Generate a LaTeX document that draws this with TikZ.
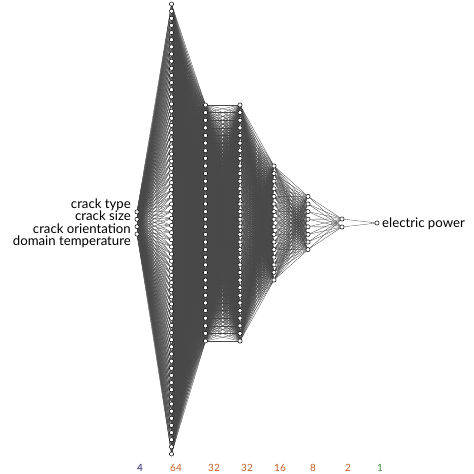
\documentclass[tikz,border=0pt]{standalone}
\usepackage{fontspec}
\setmainfont{Lato}
\usetikzlibrary{backgrounds}
\definecolor{edgec}{RGB}{72,72,72}
\definecolor{cnavy}{RGB}{40,40,110}
\definecolor{corange}{RGB}{196,96,40}
\definecolor{cgreen}{RGB}{60,140,60}
\begin{document}
\begin{tikzpicture}[x=1pt,y=-1pt,
  neuron/.style={circle,draw=black,fill=white,inner sep=0pt,minimum size=4.2pt,line width=0.5pt},
  conn/.style={edgec,line width=0.32pt},
  lbl/.style={font=\fontsize{13.2}{15}\selectfont,inner sep=0pt},
  numlbl/.style={font=\fontsize{10}{12}\selectfont,inner sep=0pt,anchor=base}]
\useasboundingbox (0,0) rectangle (474,474);
% neurons
\foreach \l/\n/\x/\ya/\yb in {0/4/137/211.9/234.1, 1/64/171.5/4/454, 2/32/205.5/105/341, 3/32/240/105/341, 4/16/274/166/280, 5/8/308/196.4/249.6, 6/2/342/219/227, 7/1/377/223/223}{
  \pgfmathsetmacro\dy{(\yb-\ya)/max(\n-1,1)}
  \foreach \i in {1,...,\n}{
    \pgfmathsetmacro\yy{\ya+\dy*(\i-1)}
    \node[neuron] (n\l-\i) at (\x,\yy) {};
  }
}
% connections
\begin{scope}[on background layer]
\foreach \l/\n/\m in {0/4/64, 1/64/32, 2/32/32, 3/32/16, 4/16/8, 5/8/2, 6/2/1}{
  \pgfmathtruncatemacro\lp{\l+1}
  \foreach \i in {1,...,\n}{
    \foreach \j in {1,...,\m}{
      \draw[conn] (n\l-\i) -- (n\lp-\j);
    }
  }
}
\end{scope}
% labels
\node[lbl,anchor=base east] (t1) at (131,208) {crack type};
\node[lbl,anchor=base east] (t2) at (131,220.5) {crack size};
\node[lbl,anchor=base east] (t3) at (131,233) {crack orientation};
\node[lbl,anchor=base east] (t4) at (131,245.5) {domain temperature};
\node[lbl,anchor=base west] (t5) at (382,227.5) {electric power};
% layer sizes
\node[numlbl,text=cnavy] (s0) at (140,471.5) {4};
\node[numlbl,text=corange] (s1) at (176,471.5) {64};
\node[numlbl,text=corange] (s2) at (214,471.5) {32};
\node[numlbl,text=corange] (s3) at (247,471.5) {32};
\node[numlbl,text=corange] (s4) at (280,471.5) {16};
\node[numlbl,text=corange] (s5) at (313,471.5) {8};
\node[numlbl,text=corange] (s6) at (348,471.5) {2};
\node[numlbl,text=cgreen] (s7) at (380,471.5) {1};
\end{tikzpicture}
\end{document}
